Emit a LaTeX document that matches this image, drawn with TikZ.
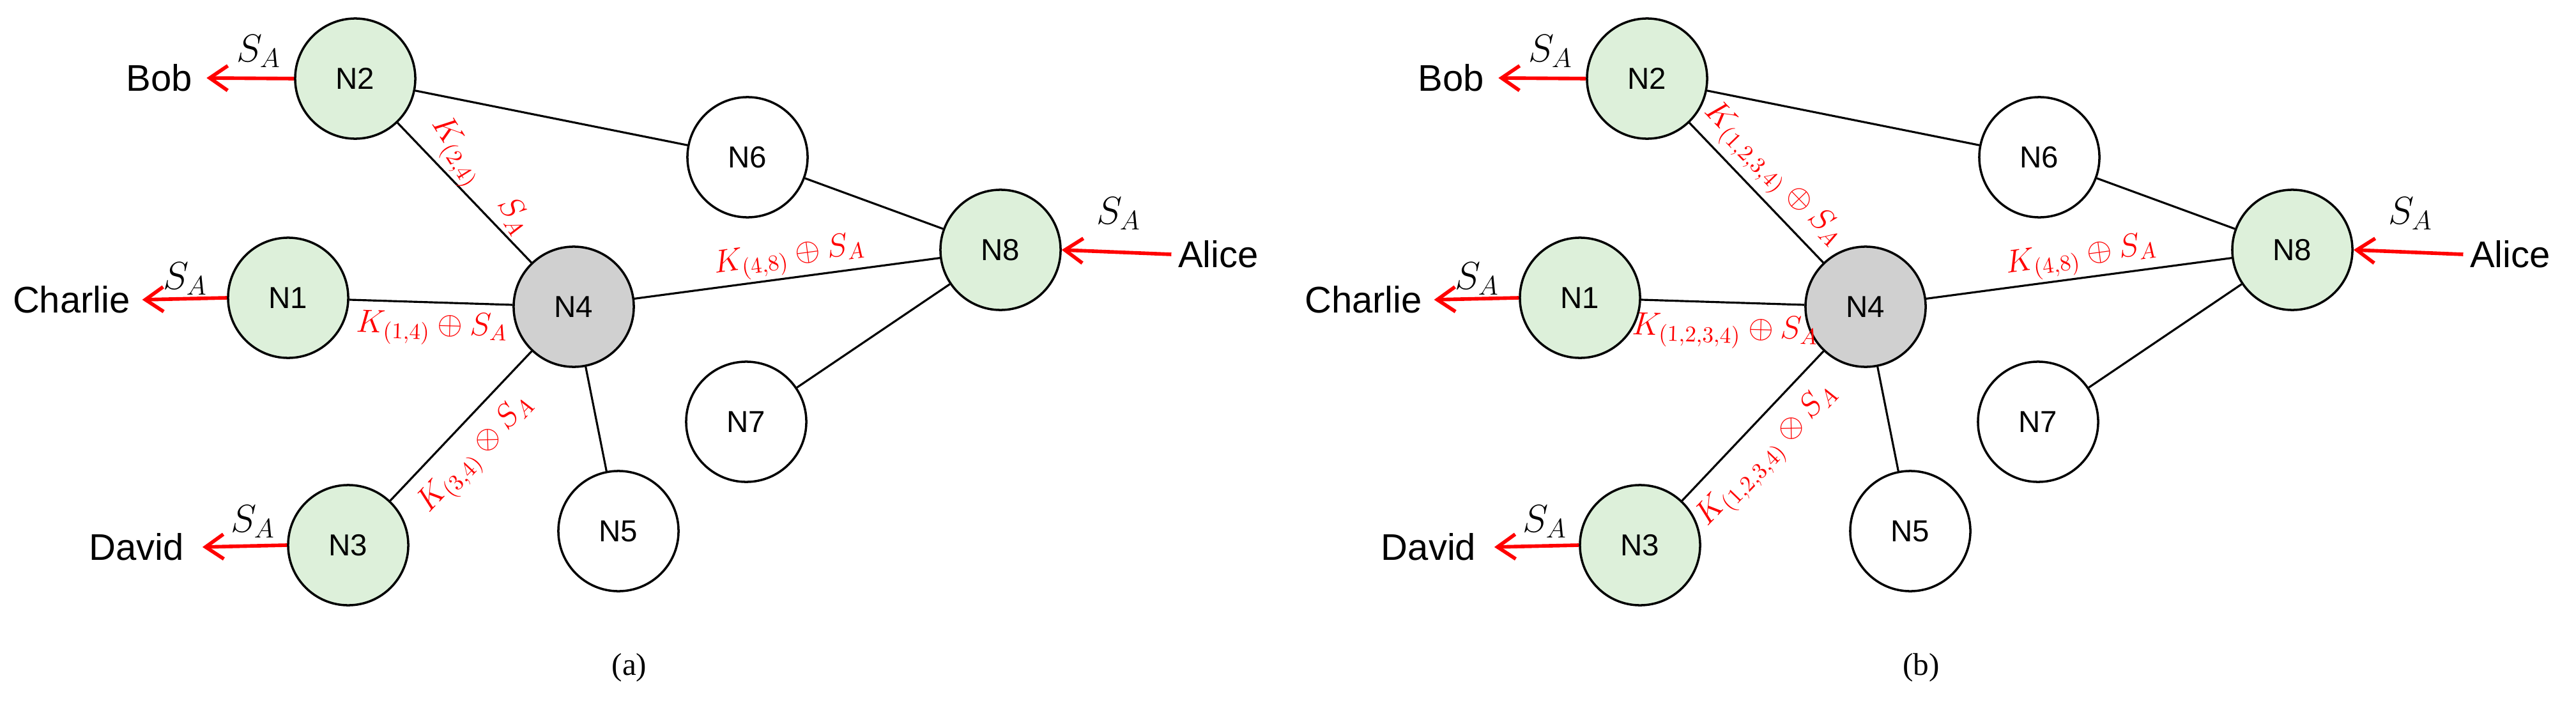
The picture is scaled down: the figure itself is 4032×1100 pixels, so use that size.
\documentclass[tikz,border=0pt]{standalone}
\usepackage{fontspec}
\setmainfont{Liberation Sans}
\newfontfamily\capfont{Liberation Serif}
\usepackage{amsmath}
\usetikzlibrary{arrows.meta}
\definecolor{gfill}{HTML}{DDF0DA}
\definecolor{nfill}{HTML}{D0D0D0}
\definecolor{kred}{HTML}{FF0000}
\newcommand{\panel}[5]{%
  \begin{scope}[shift={(#1,0)}]
  \node[nd,fill=gfill] (N2#5) at (556,123) {N2};
  \node[nd,fill=gfill] (N1#5) at (451,466) {N1};
  \node[nd,fill=gfill] (N3#5) at (545,853) {N3};
  \node[nd,fill=nfill] (N4#5) at (898,480) {N4};
  \node[nd] (N5#5) at (968,831) {N5};
  \node[nd] (N6#5) at (1170,246) {N6};
  \node[nd] (N7#5) at (1168,660) {N7};
  \node[nd,fill=gfill] (N8#5) at (1566,391) {N8};
  \draw[edge] (N2#5) -- (N6#5);
  \draw[edge] (N6#5) -- (N8#5);
  \draw[edge] (N2#5) -- (N4#5);
  \draw[edge] (N1#5) -- (N4#5);
  \draw[edge] (N4#5) -- (N8#5);
  \draw[edge] (N3#5) -- (N4#5);
  \draw[edge] (N4#5) -- (N5#5);
  \draw[edge] (N7#5) -- (N8#5);
  \node[name_] (Bob#5) at (249,122) {Bob};
  \node[name_] (Charlie#5) at (112,469) {Charlie};
  \node[name_] (David#5) at (214,856) {David};
  \node[name_] (Alice#5) at (1907,398) {Alice};
  \draw[rarr] (N2#5.west) -- ([xshift=0.22cm]Bob#5.east);
  \draw[rarr] (N1#5.west) -- ([xshift=0.18cm]Charlie#5.east);
  \draw[rarr] (N3#5.west) -- ([xshift=0.28cm]David#5.east);
  \draw[rarr] ([xshift=-0.1cm]Alice#5.west) -- (N8#5.east);
  \node[sa] (sb#5) at (405,80) {$S_A$};
  \node[sa] (sc#5) at (290,436) {$S_A$};
  \node[sa] (sd#5) at (396,816) {$S_A$};
  \node[sa] (se#5) at (1751,334) {$S_A$};
  \node[kl,rotate=7.6] (k48#5) at (1236,403) {$K_{(4,8)}\oplus S_A$};
  #2#3#4
  \end{scope}}
\begin{document}
\begin{tikzpicture}[x=0.01cm,y=-0.01cm,
  nd/.style={circle,draw=black,line width=1pt,minimum size=1.88cm,inner sep=0pt,fill=white,font=\fontsize{13.5}{14}\selectfont},
  edge/.style={line width=0.9pt},
  name_/.style={inner sep=0pt,font=\fontsize{16.5}{17}\selectfont},
  rarr/.style={kred,line width=1.6pt,-{Straight Barb[length=8pt,width=11pt,line width=1.6pt]}},
  sa/.style={inner sep=0pt,font=\fontsize{18}{19}\selectfont},
  kl/.style={inner sep=0pt,text=kred,font=\fontsize{14}{15}\selectfont}]
\useasboundingbox (0,0) rectangle (4032,1100);
\panel{0}{%
  \node[kl,rotate=-58] (k24a) at (713,238) {$K_{(2,4)}$};
  \node[kl,rotate=-58] (s24a) at (805,337) {$S_A$};}{%
  \node[kl,rotate=-1.6] (k14a) at (676,514) {$K_{(1,4)}\oplus S_A$};}{%
  \node[kl,rotate=46.6] (k34a) at (747,712) {$K_{(3,4)}\otimes S_A$};}{a}
\panel{2022}{%
  \node[kl,rotate=-46] (k24b) at (752,274) {$K_{(1,2,3,4)}\oplus S_A$};}{%
  \node[kl,rotate=-1.6] (k14b) at (678,519) {$K_{(1,2,3,4)}\oplus S_A$};}{%
  \node[kl,rotate=46] (k34b) at (746,714) {$K_{(1,2,3,4)}\otimes S_A$};}{b}
\node[font=\fontsize{14}{15}\selectfont\capfont] (capa) at (985,1045) {(a)};
\node[font=\fontsize{14}{15}\selectfont\capfont] (capb) at (3007,1045) {(b)};
\end{tikzpicture}
\end{document}
